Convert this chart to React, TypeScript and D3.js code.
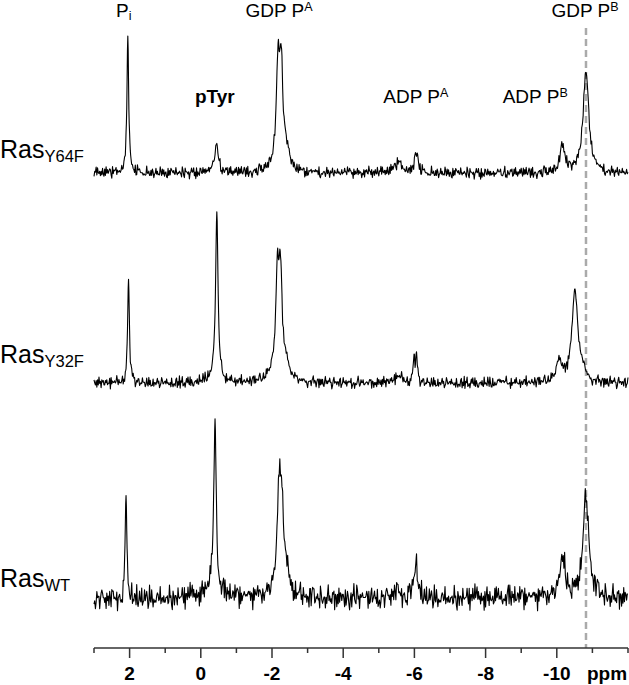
import React from 'react';
import * as d3 from 'd3';

// ---- data ----
const PPM_DOMAIN: [number, number] = [3, -12];
const MAJOR_TICKS = [2, 0, -2, -4, -6, -8, -10];
const MINOR_TICKS = [3, 1, -1, -3, -5, -7, -9, -11, -12];
const GDP_PB_REF = -10.82;

const TRACE_NAMES = ['Y64F', 'Y32F', 'WT'];

// peaks: [ppm, intensity, FWHM (ppm)]
const PEAKS_Y64F = [
  [2.05, 134, 0.06],
  [-0.45, 29, 0.09],
  [-0.33, 4, 0.35],
  [-2.17, 83, 0.1],
  [-2.26, 81, 0.1],
  [-2.215, 30, 0.3],
  [-2.42, 14, 0.15],
  [-5.55, 10, 0.25],
  [-6.03, 15, 0.07],
  [-6.09, 14, 0.07],
  [-10.16, 27, 0.17],
  [-10.82, 100, 0.2],
];
const PEAKS_Y32F = [
  [2.03, 105, 0.06],
  [-0.45, 166, 0.08],
  [-0.33, 5, 0.4],
  [-2.15, 82, 0.1],
  [-2.24, 82, 0.1],
  [-2.195, 30, 0.3],
  [-2.42, 10, 0.15],
  [-5.55, 6, 0.3],
  [-5.99, 26, 0.06],
  [-6.06, 23, 0.06],
  [-10.07, 23, 0.15],
  [-10.51, 93, 0.2],
  [-10.75, 10, 0.1],
];
const PEAKS_WT = [
  [2.1, 110, 0.05],
  [-0.4, 170, 0.08],
  [-0.28, 10, 0.4],
  [-2.19, 78, 0.1],
  [-2.27, 76, 0.1],
  [-2.23, 28, 0.3],
  [-2.4, 24, 0.1],
  [-5.5, 7, 0.3],
  [-6.04, 34, 0.13],
  [-10.16, 42, 0.18],
  [-10.82, 100, 0.2],
];
const NOISE_LEVEL = [6.5, 6.5, 14];

// baseline noise texture (digits 0-9), read as deviations around zero
const NOISE_DIGITS =
  '3819274650517038294682640193754928163057063759184274518062932983645170' +
  '6014972835935624071817483592605820617394309748251684629350712715064983' +
  '6390827145415839062708247165397563048912193657280452819043769047165823' +
  '3672819054810563749224890517366731928405035628491749207136587184562039' +
  '1563097284972843061530518769426487259103260931487581357624904872901356' +
  '02936485175716084329934057216816582397407024185693';

// ---- layout ----
const W = 629;
const H = 685;
const X_LEFT = 94;
const X_RIGHT = 628;
const AXIS_Y = 648;
const BASELINES = [173, 383, 598];
const LABEL_BASELINES = [158, 363, 587];
const NOISE_OFFSETS = [0, 137, 263];
const FONT = "'Liberation Sans', Arial, Helvetica, sans-serif";

function spectrum(peaks: number[][], noiseAmp: number, noiseOffset: number) {
  const pts: [number, number][] = [];
  const step = 0.01;
  const knot = 0.02;
  const n = NOISE_DIGITS.length;
  const nd = (k: number) =>
    (Number(NOISE_DIGITS[(k + noiseOffset) % n]) +
      Number(NOISE_DIGITS[(3 * k + 11 + noiseOffset) % n]) -
      9) /
    9;
  for (let p = PPM_DOMAIN[0]; p >= PPM_DOMAIN[1] - 1e-9; p -= step) {
    let v = 0;
    for (const [c, h, w] of peaks) {
      const t = (2 * (p - c)) / w;
      v += h / (1 + t * t);
    }
    const u = (PPM_DOMAIN[0] - p) / knot;
    const k = Math.floor(u + 1e-9);
    const f = u - k;
    const nz = nd(k) * (1 - f) + nd(k + 1) * f;
    pts.push([p, v + nz * noiseAmp]);
  }
  return pts;
}

export default function App() {
  const x = d3.scaleLinear().domain(PPM_DOMAIN).range([X_LEFT, X_RIGHT]);
  const allPeaks = [PEAKS_Y64F, PEAKS_Y32F, PEAKS_WT];

  const traces = allPeaks.map((pk, i) => {
    const y = d3.scaleLinear().domain([0, 200]).range([BASELINES[i], BASELINES[i] - 200]);
    const line = d3
      .line<[number, number]>()
      .x((d) => x(d[0]))
      .y((d) => y(d[1]));
    return line(spectrum(pk, NOISE_LEVEL[i], NOISE_OFFSETS[i])) || '';
  });

  const labelFs = 19;
  const supFs = 12.5;

  return (
    <svg
      width={W}
      height={H}
      style={{ position: 'absolute', left: 0, top: 0, background: '#fff' }}
      fontFamily={FONT}
    >
      {/* reference dashed line at GDP Pβ */}
      <line
        x1={x(GDP_PB_REF)}
        x2={x(GDP_PB_REF)}
        y1={28}
        y2={AXIS_Y}
        stroke="#aaaaaa"
        strokeWidth={2.5}
        strokeDasharray="7,4"
      />

      {traces.map((d, i) => (
        <path key={i} d={d} fill="none" stroke="#000" strokeWidth={1.1} strokeLinejoin="round" />
      ))}

      {/* axis */}
      <line x1={X_LEFT} x2={X_RIGHT} y1={AXIS_Y} y2={AXIS_Y} stroke="#333" strokeWidth={1.5} />
      {MAJOR_TICKS.map((t) => (
        <g key={'M' + t}>
          <line x1={x(t)} x2={x(t)} y1={AXIS_Y} y2={AXIS_Y + 10} stroke="#333" strokeWidth={1.5} />
          <text x={x(t)} y={680} textAnchor="middle" fontSize={19} fontWeight="bold" fill="#000">
            {String(t)}
          </text>
        </g>
      ))}
      {MINOR_TICKS.map((t) => (
        <line key={'m' + t} x1={x(t)} x2={x(t)} y1={AXIS_Y} y2={AXIS_Y + 5} stroke="#333" strokeWidth={1.5} />
      ))}
      <text x={587} y={680} fontSize={19} fontWeight="bold" fill="#000">
        ppm
      </text>

      {/* trace labels */}
      {TRACE_NAMES.map((nm, i) => (
        <text key={nm} x={0} y={LABEL_BASELINES[i]} fontSize={25} fill="#000">
          Ras
          <tspan fontSize={16.5} dy={4}>
            {nm}
          </tspan>
        </text>
      ))}

      {/* peak labels */}
      <text x={116} y={17} fontSize={labelFs} fill="#000">
        P<tspan fontSize={supFs} dy={3}>i</tspan>
      </text>
      <text x={245.5} y={17} fontSize={labelFs} fill="#000">
        GDP P<tspan fontSize={supFs} dy={-6}>A</tspan>
      </text>
      <text x={551.5} y={17} fontSize={labelFs} fill="#000">
        GDP P<tspan fontSize={supFs} dy={-6}>B</tspan>
      </text>
      <text x={195} y={103} fontSize={19} fontWeight="bold" fill="#000">
        pTyr
      </text>
      <text x={383.3} y={103.3} fontSize={labelFs} fill="#000">
        ADP P<tspan fontSize={supFs} dy={-6}>A</tspan>
      </text>
      <text x={502.7} y={103.3} fontSize={labelFs} fill="#000">
        ADP P<tspan fontSize={supFs} dy={-6}>B</tspan>
      </text>
    </svg>
  );
}
